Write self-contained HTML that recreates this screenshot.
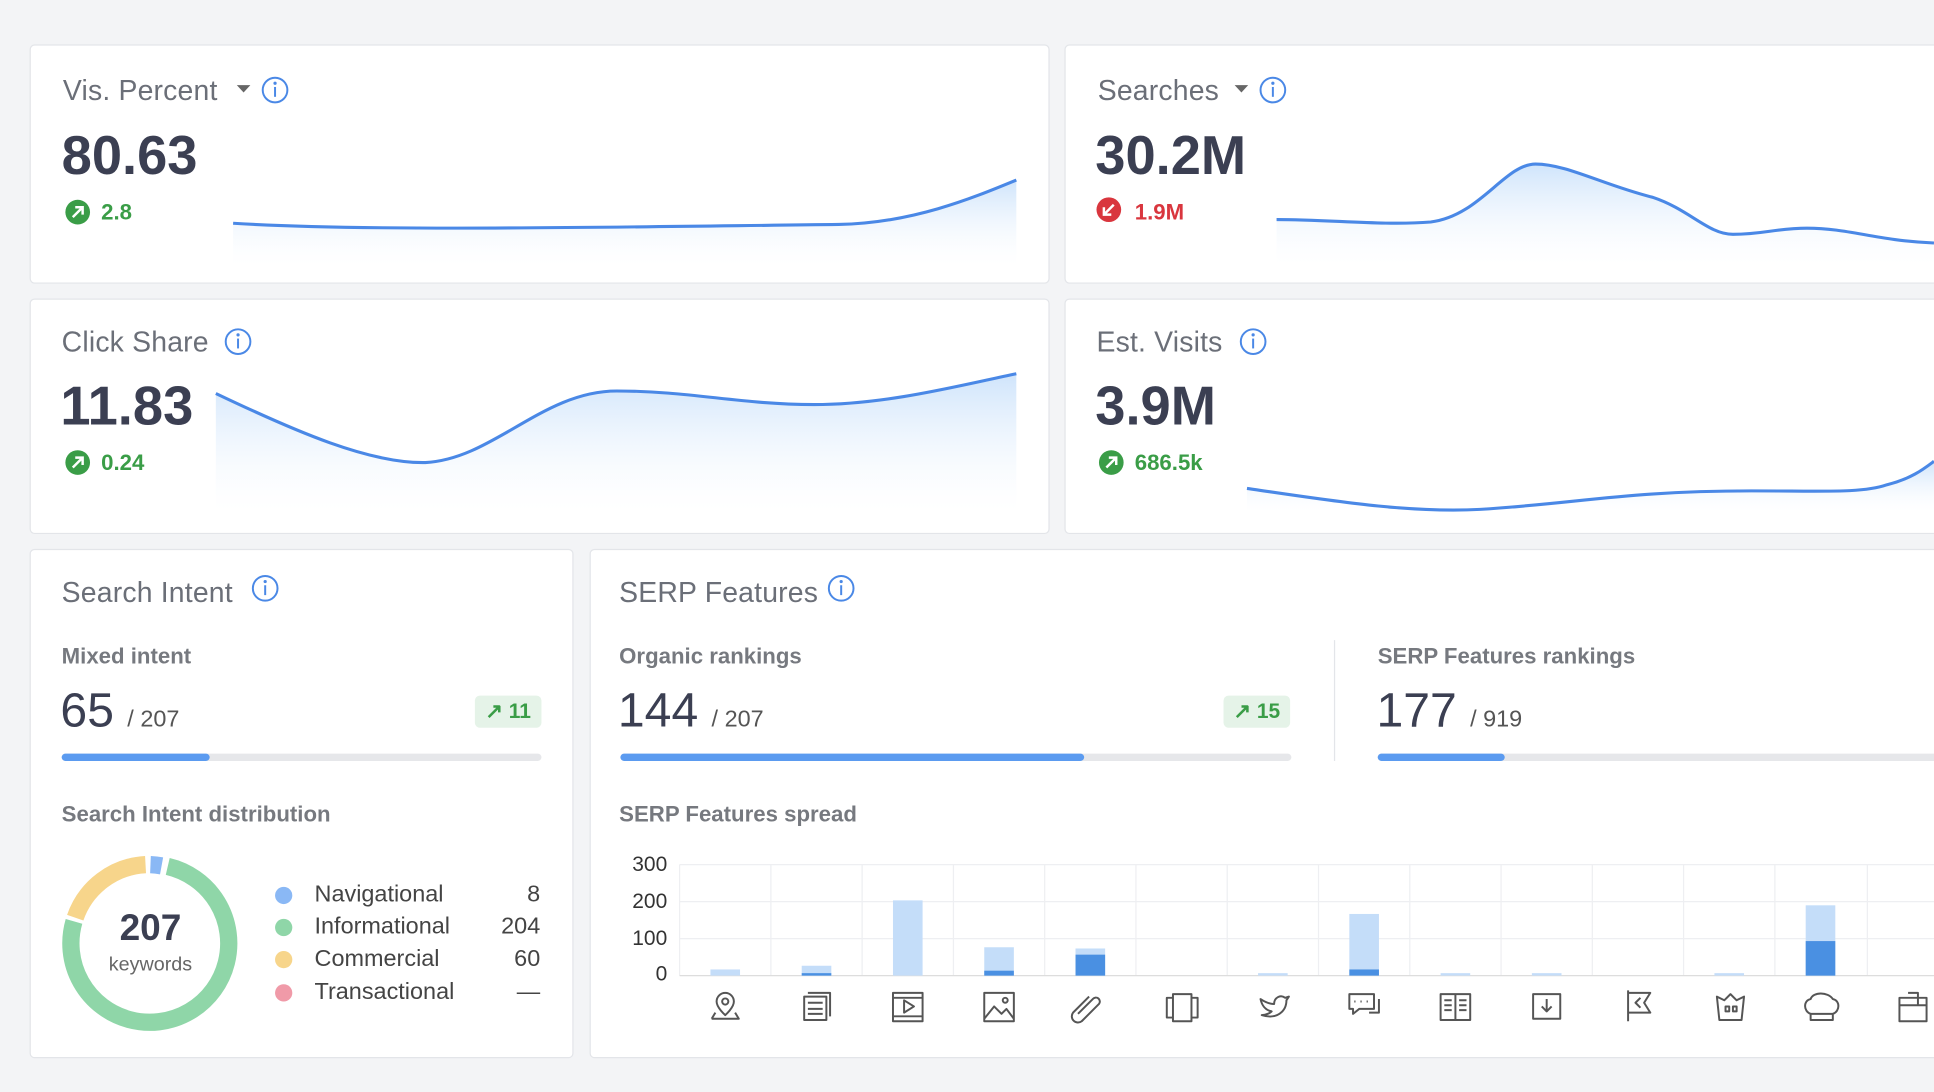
<!DOCTYPE html>
<html><head><meta charset="utf-8"><style>
html,body{margin:0;padding:0;width:1934px;height:1092px;overflow:hidden;background:#f3f4f6;}
#w{position:absolute;left:0;top:0;width:1568px;height:885px;transform:scale(1.2334);transform-origin:0 0;font-family:"Liberation Sans",Arial,sans-serif;}
.card{position:absolute;background:#fff;border:1px solid #e3e5e9;border-radius:4px;box-sizing:border-box;}
.t{position:absolute;font-size:23px;letter-spacing:0.15px;color:#6b6f78;white-space:nowrap;}
.big{position:absolute;font-size:44px;font-weight:bold;color:#3b3f52;white-space:nowrap;}
.d{position:absolute;font-size:18px;font-weight:bold;white-space:nowrap;}
.s{position:absolute;font-size:18px;color:#76797f;font-weight:bold;white-space:nowrap;}
.n{position:absolute;font-size:39px;color:#3b3f52;white-space:nowrap;}
.n span{font-size:19px;color:#555;}
.badge{position:absolute;background:#e5f3e8;color:#3a9d47;font-size:17px;font-weight:bold;border-radius:4px;text-align:center;line-height:26px;height:26px;}
.lg{position:absolute;font-size:19px;color:#444;white-space:nowrap;}
.yl{position:absolute;font-size:17px;color:#333;width:40px;text-align:right;}
</style></head><body><div id="w">
<div class="card" style="left:24px;top:36px;width:827px;height:194px"></div>
<div class="card" style="left:863px;top:36px;width:720px;height:194px"></div>
<div class="card" style="left:24px;top:242px;width:827px;height:191px"></div>
<div class="card" style="left:863px;top:242px;width:720px;height:191px"></div>
<div class="card" style="left:24px;top:445px;width:441px;height:413px"></div>
<div class="card" style="left:478px;top:445px;width:1105px;height:413px"></div>

<div class="t" style="left:51px;top:60px">Vis. Percent</div>
<div class="t" style="left:890px;top:60px">Searches</div>
<div class="t" style="left:50px;top:264px">Click Share</div>
<div class="t" style="left:889px;top:264px">Est. Visits</div>
<div class="t" style="left:50px;top:467px">Search Intent</div>
<div class="t" style="left:502px;top:467px">SERP Features</div>

<div class="big" style="left:50px;top:102px">80.63</div>
<div class="big" style="left:888px;top:102px">30.2M</div>
<div class="big" style="left:49px;top:305px">11.83</div>
<div class="big" style="left:888px;top:305px">3.9M</div>
<div class="d" style="left:82px;top:162px;color:#3a9d47">2.8</div>
<div class="d" style="left:920px;top:162px;color:#d9363e">1.9M</div>
<div class="d" style="left:82px;top:365px;color:#3a9d47">0.24</div>
<div class="d" style="left:920px;top:365px;color:#3a9d47">686.5k</div>

<div class="s" style="left:50px;top:522px">Mixed intent</div>
<div class="n" style="left:49px;top:555px">65 <span>/ 207</span></div>
<div class="badge" style="left:385px;top:564px;width:54px">↗ 11</div>
<div class="s" style="left:50px;top:650px">Search Intent distribution</div>
<div class="s" style="left:502px;top:522px">Organic rankings</div>
<div class="n" style="left:501px;top:555px">144 <span>/ 207</span></div>
<div class="badge" style="left:992px;top:564px;width:54px">↗ 15</div>
<div class="s" style="left:1117px;top:522px">SERP Features rankings</div>
<div class="n" style="left:1116px;top:555px">177 <span>/ 919</span></div>
<div class="s" style="left:502px;top:650px">SERP Features spread</div>

<div class="lg" style="left:255px;top:715px">Navigational</div>
<div class="lg" style="left:255px;top:741px">Informational</div>
<div class="lg" style="left:255px;top:767px">Commercial</div>
<div class="lg" style="left:255px;top:794px">Transactional</div>
<div class="lg" style="left:398px;top:715px;width:40px;text-align:right">8</div>
<div class="lg" style="left:398px;top:741px;width:40px;text-align:right">204</div>
<div class="lg" style="left:398px;top:767px;width:40px;text-align:right">60</div>
<div class="lg" style="left:398px;top:794px;width:40px;text-align:right">—</div>
<div style="position:absolute;left:72px;top:736px;width:100px;text-align:center;font-size:30px;font-weight:bold;color:#3b3f52">207</div>
<div style="position:absolute;left:72px;top:774px;width:100px;text-align:center;font-size:16px;color:#666">keywords</div>

<div class="yl" style="left:501px;top:691px">300</div>
<div class="yl" style="left:501px;top:721px">200</div>
<div class="yl" style="left:501px;top:751px">100</div>
<div class="yl" style="left:501px;top:780px">0</div>

<svg width="1568" height="885" style="position:absolute;left:0;top:0">
<defs><linearGradient id="g" x1="0" y1="0" x2="0" y2="1"><stop offset="0" stop-color="#cfe4fb"/><stop offset="1" stop-color="#fff" stop-opacity="0.2"/></linearGradient></defs>
<g fill="none" stroke="#4a88e6" stroke-width="1.6">
<circle cx="223" cy="73" r="10"/><circle cx="1032" cy="73" r="10"/><circle cx="193" cy="277" r="10"/><circle cx="1016" cy="277" r="10"/><circle cx="215" cy="477" r="10"/><circle cx="682" cy="477" r="10"/>
</g>
<g fill="#4a88e6"><circle cx="223" cy="67.5" r="1.3"/><rect x="222.2" y="70.5" width="1.6" height="8"/><circle cx="1032" cy="67.5" r="1.3"/><rect x="1031.2" y="70.5" width="1.6" height="8"/><circle cx="193" cy="271.5" r="1.3"/><rect x="192.2" y="274.5" width="1.6" height="8"/><circle cx="1016" cy="271.5" r="1.3"/><rect x="1015.2" y="274.5" width="1.6" height="8"/><circle cx="215" cy="471.5" r="1.3"/><rect x="214.2" y="474.5" width="1.6" height="8"/><circle cx="682" cy="471.5" r="1.3"/><rect x="681.2" y="474.5" width="1.6" height="8"/></g>
<path d="M192 69h11l-5.5 6z" fill="#666"/><path d="M1001 69h11l-5.5 6z" fill="#666"/>
<circle cx="63" cy="172" r="10" fill="#3a9d47"/><circle cx="63" cy="375" r="10" fill="#3a9d47"/><circle cx="901" cy="375" r="10" fill="#3a9d47"/><circle cx="899" cy="170" r="10" fill="#d9363e"/>
<g stroke="#fff" stroke-width="2" fill="none"><path d="M59 176l8-8M61 168h6v6"/><path d="M59 379l8-8M61 371h6v6"/><path d="M897 379l8-8M899 371h6v6"/><path d="M903 166l-8 8M895 168v6h6"/></g>
<path d="M189 181C300 188 500 184 680 182C740 181 790 160 824 146V215H189Z" fill="url(#g)"/>
<path d="M189 181C300 188 500 184 680 182C740 181 790 160 824 146" fill="none" stroke="#4a88e6" stroke-width="2.5"/>
<path d="M1035 178C1080 178 1120 183 1160 180C1200 175 1220 133 1245 133C1270 133 1300 150 1340 160C1370 170 1385 190 1405 190C1430 190 1440 185 1465 185C1500 185 1520 195 1568 197V215H1035Z" fill="url(#g)"/>
<path d="M1035 178C1080 178 1120 183 1160 180C1200 175 1220 133 1245 133C1270 133 1300 150 1340 160C1370 170 1385 190 1405 190C1430 190 1440 185 1465 185C1500 185 1520 195 1568 197" fill="none" stroke="#4a88e6" stroke-width="2.5"/>
<path d="M175 319C240 350 300 376 345 375C400 372 440 317 500 317C560 317 600 328 660 328C720 328 780 312 824 303V415H175Z" fill="url(#g)"/>
<path d="M175 319C240 350 300 376 345 375C400 372 440 317 500 317C560 317 600 328 660 328C720 328 780 312 824 303" fill="none" stroke="#4a88e6" stroke-width="2.5"/>
<path d="M1011 396C1080 406 1140 416 1200 413C1280 408 1320 398 1420 398C1480 398 1510 400 1530 393C1550 388 1560 380 1568 374V415H1011Z" fill="url(#g)"/>
<path d="M1011 396C1080 406 1140 416 1200 413C1280 408 1320 398 1420 398C1480 398 1510 400 1530 393C1550 388 1560 380 1568 374" fill="none" stroke="#4a88e6" stroke-width="2.5"/>
<rect x="50" y="611" width="389" height="6" rx="3" fill="#e6e7ea"/><rect x="50" y="611" width="120" height="6" rx="3" fill="#5b9bf0"/>
<rect x="503" y="611" width="544" height="6" rx="3" fill="#e6e7ea"/><rect x="503" y="611" width="376" height="6" rx="3" fill="#5b9bf0"/>
<rect x="1117" y="611" width="460" height="6" rx="3" fill="#e6e7ea"/><rect x="1117" y="611" width="103" height="6" rx="3" fill="#5b9bf0"/>
<line x1="1082" y1="519" x2="1082" y2="617" stroke="#e3e5e9"/>
<g fill="none" stroke-width="14">
<path d="M122 701A64 64 0 0 1 131 702" stroke="#8ab8f5"/>
<path d="M136 702.5A64 64 0 1 1 60 747" stroke="#8fd6a8"/>
<path d="M61 744A64 64 0 0 1 118 701" stroke="#f7d58b"/>
</g>
<circle cx="230" cy="726" r="7" fill="#8ab8f5"/><circle cx="230" cy="752" r="7" fill="#8fd6a8"/><circle cx="230" cy="778" r="7" fill="#f7d58b"/><circle cx="230" cy="805" r="7" fill="#f09aa8"/>
<g stroke="#eeeff2"><line x1="551" y1="701" x2="1568" y2="701"/><line x1="551" y1="731" x2="1568" y2="731"/><line x1="551" y1="761" x2="1568" y2="761"/>
<path d="M551 701V791M625 701V791M699 701V791M773 701V791M847 701V791M921 701V791M995 701V791M1069 701V791M1143 701V791M1217 701V791M1291 701V791M1365 701V791M1439 701V791M1514 701V791"/></g>
<line x1="551" y1="791" x2="1568" y2="791" stroke="#ddd"/>
<g fill="#c4ddf9"><rect x="576" y="786" width="24" height="5"/><rect x="650" y="783" width="24" height="8"/><rect x="724" y="730" width="24" height="61"/><rect x="798" y="768" width="24" height="23"/><rect x="872" y="769" width="24" height="22"/><rect x="1020" y="789" width="24" height="2"/><rect x="1094" y="741" width="24" height="50"/><rect x="1168" y="789" width="24" height="2"/><rect x="1242" y="789" width="24" height="2"/><rect x="1390" y="789" width="24" height="2"/><rect x="1464" y="734" width="24" height="57"/></g>
<g fill="#4a90e2"><rect x="650" y="789" width="24" height="2"/><rect x="798" y="787" width="24" height="4"/><rect x="872" y="774" width="24" height="17"/><rect x="1094" y="786" width="24" height="5"/><rect x="1464" y="763" width="24" height="28"/></g>
<g fill="none" stroke="#555" stroke-width="1.6" stroke-linejoin="round">
<path d="M588 805a7 7 0 0 1 7 7c0 5-7 11-7 11s-7-6-7-11a7 7 0 0 1 7-7zM577 826h22l-3-5M580 821l-3 5"/><circle cx="588" cy="812" r="2.5"/>
<path d="M652 808h18v19h-18zM655 805h18v19M655 813h12M655 818h12M655 822h12"/>
<path d="M724 805h24v23h-24zM724 809h24M724 824h24M733 811l8 5-8 5z"/>
<path d="M798 805h24v23h-24zM798 826l8-10 6 6 4-4 6 8"/><circle cx="815" cy="811" r="2"/>
<path d="M874 822l12-12a3 3 0 0 1 5 4l-14 14a5 5 0 0 1-7-7l13-13"/>
<path d="M951 806h15v22h-15zM946 809h5v16h-5zM966 809h5v16h-5z"/>
<path d="M1022 810c3 2 7 4 11 4 0-5 5-8 9-5l3-1-2 3c0 9-8 16-20 12 4 0 7-2 8-3-5-1-8-5-9-10z"/>
<path d="M1094 806h20v12h-12l-5 4v-4h-3zM1110 821h8v-11M1098 812h1M1103 812h1M1108 812h1"/>
<path d="M1168 806h24v21h-24zM1180 806v21M1171 811h6M1171 815h6M1171 819h6M1183 811h6M1183 815h6M1183 819h6"/>
<path d="M1243 806h22v20h-22zM1254 810v10M1250 816l4 4 4-4"/>
<path d="M1320 803v25M1320 805h18l-5 8 5 8h-18M1330 809l-4 4 4 4"/>
<path d="M1392 808l6 3 5-5 5 5 6-3-2 19h-18zM1399 816h3v4h-3zM1405 816h3v4h-3z"/>
<path d="M1468 822h18v5h-18zM1468 822c-6-2-6-11 0-12 2-6 14-6 18 0 6 1 6 10 0 12"/>
<path d="M1540 809h22v19h-22zM1540 815h22M1547 805h8v10"/>
</g>
</svg>
</div></body></html>
